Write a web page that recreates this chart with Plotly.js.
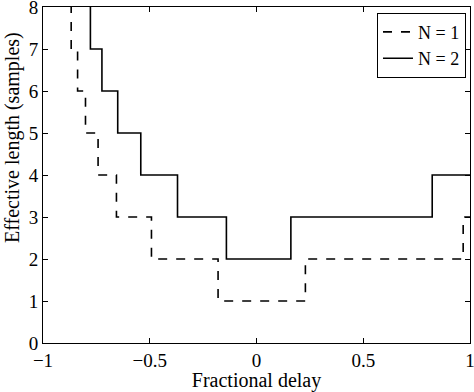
<!DOCTYPE html>
<html>
<head>
<meta charset="utf-8">
<script src="https://cdn.plot.ly/plotly-3.0.1.min.js"></script>
<style>html,body{margin:0;padding:0;background:#fff;}#chart{width:474px;height:392px;}</style>
</head>
<body>
<div id="chart"></div>
<script>
// N = 1 (dashed): breakpoints and the level held on each interval
const n1Breaks = [-0.868, -0.868, -0.838, -0.801, -0.742, -0.656, -0.492, -0.180, 0.229, 0.968, 1.0];
const n1Levels = [8.5, 7, 6, 5, 4, 3, 2, 1, 2, 3];
// N = 2 (solid)
const n2Breaks = [-0.778, -0.778, -0.724, -0.650, -0.542, -0.370, -0.141, 0.161, 0.823, 1.0];
const n2Levels = [8.5, 7, 6, 5, 4, 3, 2, 3, 4];

const xTicks = [-1, -0.5, 0, 0.5, 1];
const xTickText = ['\u22121', '\u22120.5', '0', '0.5', '1'];
const yTicks = [0, 1, 2, 3, 4, 5, 6, 7, 8];

function stepY(levels) { return levels.concat([levels[levels.length - 1]]); }

const FONT = 'Liberation Serif, Times New Roman, serif';

const traces = [
  {x: n1Breaks, y: stepY(n1Levels), mode: 'lines', line: {shape: 'hv', color: '#000', width: 1.6, dash: 'dash'}, name: 'N = 1'},
  {x: n2Breaks, y: stepY(n2Levels), mode: 'lines', line: {shape: 'hv', color: '#000', width: 1.6}, name: 'N = 2'}
];

const axisCommon = {
  showline: true, linecolor: '#000', linewidth: 1, mirror: 'ticks',
  ticks: 'inside', ticklen: 5, tickcolor: '#000', tickwidth: 1,
  showgrid: false, zeroline: false, ticklabeloverflow: 'allow',
  tickfont: {family: FONT, size: 19, color: '#000'}
};

const layout = {
  width: 474, height: 392,
  margin: {l: 43, r: 4, t: 7, b: 49},
  paper_bgcolor: '#fff', plot_bgcolor: '#fff',
  font: {family: FONT, color: '#000'},
  xaxis: Object.assign({}, axisCommon, {
    range: [-1, 1], tickvals: xTicks, ticktext: xTickText, ticklabelstandoff: 0,
    title: {text: 'Fractional delay', font: {family: FONT, size: 20, color: '#000'}, standoff: 5}
  }),
  yaxis: Object.assign({}, axisCommon, {
    range: [0, 8], tickvals: yTicks
  }),
  annotations: [{
    text: 'Effective length (samples)', textangle: -90,
    xref: 'paper', yref: 'paper', x: -0.072, y: 0.611,
    xanchor: 'center', yanchor: 'middle', showarrow: false,
    font: {family: FONT, size: 20, color: '#000'}
  }],
  showlegend: true,
  legend: {
    x: 0.9906, y: 0.983, xanchor: 'right', yanchor: 'top',
    bordercolor: '#000', borderwidth: 1, bgcolor: '#fff',
    font: {family: FONT, size: 18, color: '#000'},
    tracegroupgap: 0, itemwidth: 30
  }
};

Plotly.newPlot('chart', traces, layout, {displayModeBar: false, staticPlot: true});
</script>
</body>
</html>
